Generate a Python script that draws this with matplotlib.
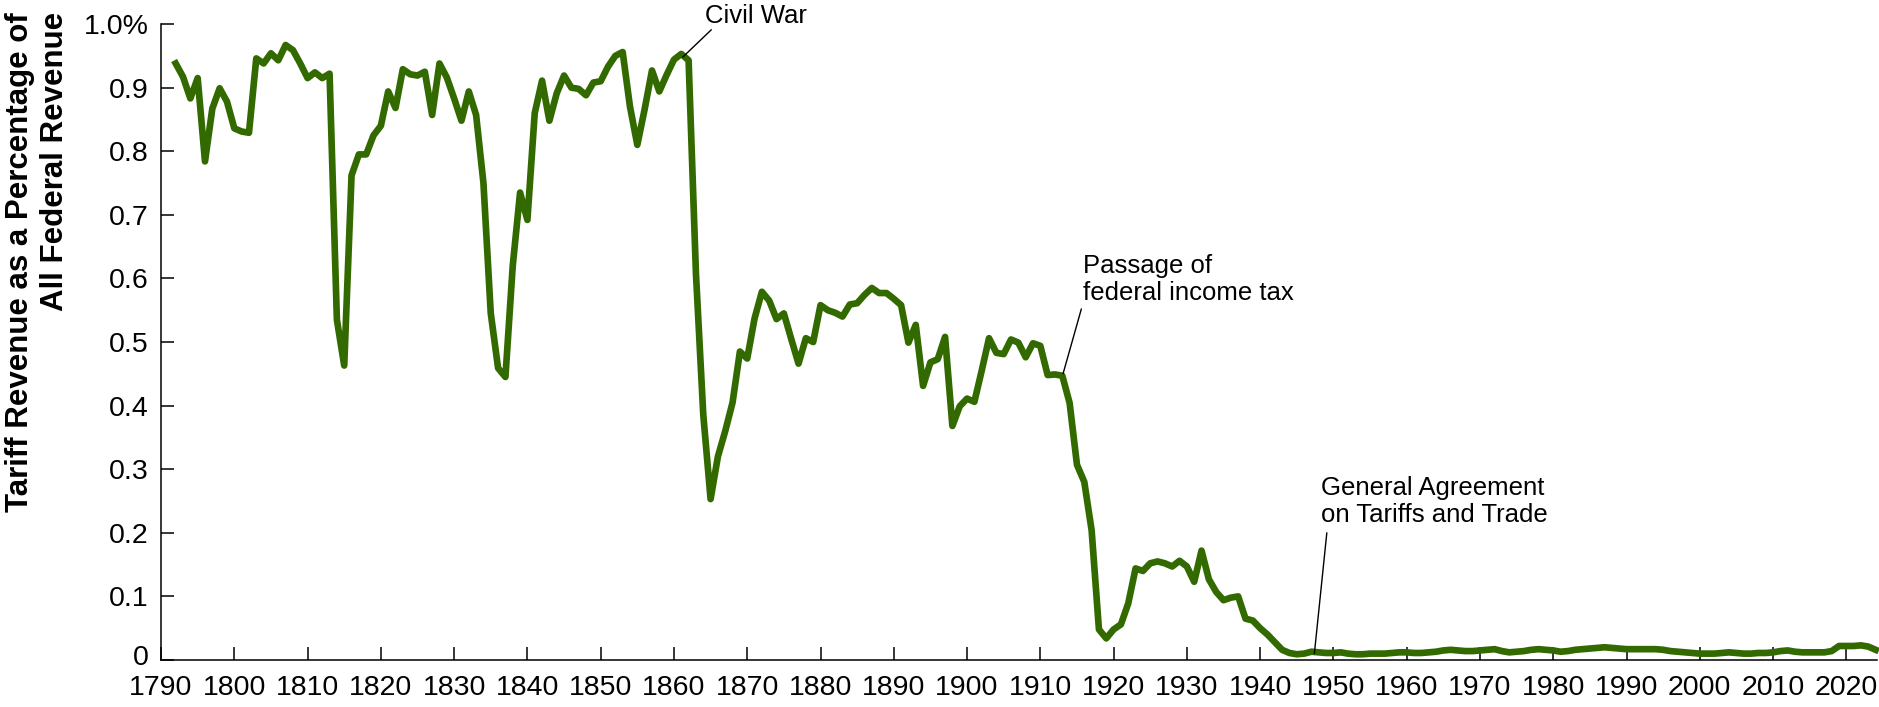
import matplotlib.pyplot as plt
import matplotlib.transforms as mtransforms
import numpy as np

plt.rcParams['font.family'] = ['Liberation Sans', 'DejaVu Sans']

# datos (porcentaje de ingresos por aranceles)
anios = np.arange(1792, 2025)
valores = [
    # 1792-1799
    0.938, 0.917, 0.883, 0.915, 0.784, 0.867, 0.899, 0.878,
    # 1800-1809
    0.836, 0.831, 0.829, 0.946, 0.938, 0.954, 0.943, 0.967, 0.959, 0.938,
    # 1810-1819
    0.915, 0.924, 0.915, 0.922, 0.535, 0.463, 0.762, 0.795, 0.795, 0.825,
    # 1820-1829
    0.840, 0.894, 0.868, 0.929, 0.921, 0.919, 0.925, 0.857, 0.938, 0.916,
    # 1830-1839
    0.883, 0.848, 0.894, 0.857, 0.750, 0.545, 0.459, 0.445, 0.620, 0.735,
    # 1840-1849
    0.692, 0.860, 0.911, 0.848, 0.891, 0.919, 0.900, 0.898, 0.888, 0.908,
    # 1850-1859
    0.910, 0.933, 0.950, 0.956, 0.870, 0.810, 0.866, 0.927, 0.894, 0.920,
    # 1860-1869
    0.944, 0.953, 0.943, 0.608, 0.386, 0.253, 0.320, 0.360, 0.405, 0.485,
    # 1870-1879
    0.474, 0.537, 0.579, 0.565, 0.536, 0.545, 0.505, 0.466, 0.506, 0.500,
    # 1880-1889
    0.558, 0.550, 0.546, 0.540, 0.559, 0.561, 0.574, 0.585, 0.577, 0.577,
    # 1890-1899
    0.568, 0.558, 0.499, 0.527, 0.431, 0.468, 0.473, 0.508, 0.368, 0.399,
    # 1900-1909
    0.411, 0.406, 0.455, 0.506, 0.483, 0.481, 0.504, 0.499, 0.476, 0.498,
    # 1910-1919
    0.494, 0.448, 0.449, 0.447, 0.404, 0.307, 0.280, 0.204, 0.048, 0.034,
    # 1920-1929
    0.048, 0.056, 0.089, 0.144, 0.140, 0.152, 0.155, 0.152, 0.147, 0.156,
    # 1930-1939
    0.147, 0.123, 0.172, 0.127, 0.107, 0.094, 0.098, 0.100, 0.065, 0.062,
    # 1940-1949
    0.050, 0.040, 0.028, 0.016, 0.011, 0.009, 0.010, 0.013, 0.012, 0.011,
    # 1950-1959
    0.011, 0.012, 0.010, 0.009, 0.009, 0.010, 0.010, 0.010, 0.011, 0.012,
    # 1960-1969
    0.012, 0.011, 0.011, 0.012, 0.013, 0.015, 0.016, 0.015, 0.014, 0.014,
    # 1970-1979
    0.015, 0.016, 0.017, 0.014, 0.012, 0.013, 0.014, 0.016, 0.017, 0.016,
    # 1980-1989
    0.015, 0.013, 0.014, 0.016, 0.017, 0.018, 0.019, 0.020, 0.019, 0.018,
    # 1990-1999
    0.017, 0.017, 0.017, 0.017, 0.017, 0.016, 0.014, 0.013, 0.012, 0.011,
    # 2000-2009
    0.010, 0.010, 0.010, 0.011, 0.012, 0.011, 0.010, 0.010, 0.011, 0.011,
    # 2010-2019
    0.012, 0.014, 0.015, 0.013, 0.012, 0.012, 0.012, 0.012, 0.014, 0.022,
    # 2020-2024
    0.022, 0.022, 0.023, 0.021, 0.016,
]

x_ticks = np.arange(1790, 2021, 10)
y_ticks = np.arange(0, 1.01, 0.1)
y_tick_labels = ['0', '0.1', '0.2', '0.3', '0.4', '0.5', '0.6', '0.7', '0.8', '0.9', '1.0%']

# anotaciones: texto, posicion del texto, inicio y fin de la linea guia
anotaciones = [
    ('Civil War', (1864.2, 1.002), (1865.1, 0.991), (1861.2, 0.948)),
    ('Passage of\nfederal income tax', (1915.8, 0.566), (1915.6, 0.552), (1913.1, 0.450)),
    ('General Agreement\non Tariffs and Trade', (1948.3, 0.217), (1949.1, 0.200), (1947.4, 0.010)),
]

color_linea = '#336a00'

fig = plt.figure(figsize=(18.79, 7.07), dpi=100)
ax = fig.add_axes([0.0857, 0.0665, 0.9133, 0.8995])

ax.plot(anios, valores, color=color_linea, lw=4.8, solid_joinstyle='round', clip_on=False)

ax.set_xlim(1790, 2024.2)
ax.set_ylim(0, 1.0)
ax.set_xticks(x_ticks)
ax.set_yticks(y_ticks)
ax.set_yticklabels(y_tick_labels)

for lado in ['top', 'right']:
    ax.spines[lado].set_visible(False)
for lado in ['left', 'bottom']:
    ax.spines[lado].set_linewidth(1.1)

ax.tick_params(axis='both', direction='in', length=9.5, width=1.1, labelsize=20.5)
ax.tick_params(axis='y', pad=9)
ax.tick_params(axis='x', pad=11)

# el "0" del eje y va un poco mas arriba, como en el original
etiqueta_cero = ax.get_yticklabels()[0]
etiqueta_cero.set_transform(etiqueta_cero.get_transform() +
                            mtransforms.ScaledTranslation(0, 5 / 100, fig.dpi_scale_trans))

for texto, pos_texto, ini, fin in anotaciones:
    ax.text(pos_texto[0], pos_texto[1], texto, fontsize=18.5, ha='left', va='baseline',
            linespacing=1.15, clip_on=False)
    ax.annotate('', xy=fin, xytext=ini,
                arrowprops=dict(arrowstyle='-', lw=1.0, color='black', shrinkA=0, shrinkB=0),
                annotation_clip=False)

# etiqueta del eje y, dos lineas alineadas arriba
fig.text(0.020, 1 - 12 / 707, 'Tariff Revenue as a Percentage of\nAll Federal Revenue',
         rotation=90, ha='center', va='top', multialignment='right',
         fontsize=22.5, fontweight='bold', linespacing=1.25,
         family=['Liberation Sans Narrow', 'Liberation Sans', 'DejaVu Sans'])

plt.savefig('out.png', dpi=100)
